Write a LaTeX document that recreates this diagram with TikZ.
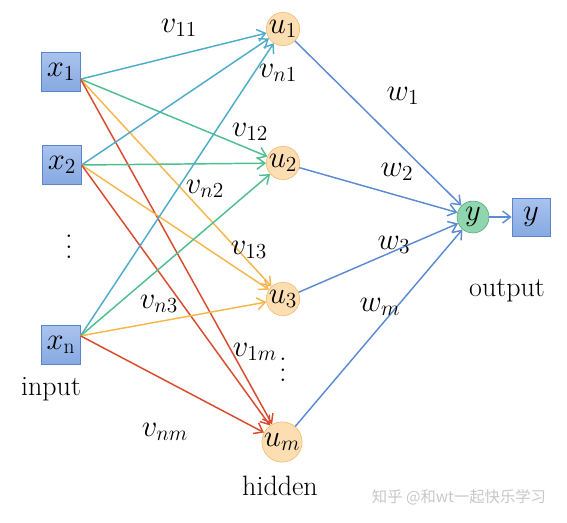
\RequirePackage{fix-cm}
\documentclass[tikz,border=0pt]{standalone}
\usepackage{fontspec}
\newfontfamily\cjk{Noto Sans CJK SC}
\usetikzlibrary{arrows.meta}
\definecolor{boxtop}{HTML}{A9C3EE}
\definecolor{boxbot}{HTML}{86A9E2}
\definecolor{boxdraw}{HTML}{5B84C9}
\definecolor{hidfill}{HTML}{FDDDB2}
\definecolor{hiddraw}{HTML}{F2B561}
\definecolor{outfill}{HTML}{8FD5AE}
\definecolor{outdraw}{HTML}{4FA377}
\definecolor{toA}{HTML}{4EACCB}
\definecolor{toB}{HTML}{4DC08E}
\definecolor{toC}{HTML}{F5B74C}
\definecolor{toM}{HTML}{DA4A2C}
\definecolor{toY}{HTML}{5C8BD3}
\tikzset{
inbox/.style={draw=boxdraw, top color=boxtop, bottom color=boxbot, minimum size=29pt, inner sep=0pt},
hid/.style={circle, draw=hiddraw, fill=hidfill, minimum size=22.5pt, inner sep=0pt},
outc/.style={circle, draw=outdraw, fill=outfill, minimum size=24pt, inner sep=0pt},
wire/.style={line width=1.1pt, -{Straight Barb[length=6pt,width=9pt]}},
word/.style={font=\fontsize{21}{25}\selectfont}
}
\newcommand{\tallvdots}{\vbox{\baselineskip=8pt \lineskiplimit=0pt \hbox{.}\hbox{.}\hbox{.}}}

\begin{document}
\begin{tikzpicture}[x=0.75pt, y=-0.75pt, font=\fontsize{23}{27}\selectfont]
\useasboundingbox (0,0) rectangle (567,522);

% input layer
\node[inbox] (x1) at (61,72) {$x_1$};
\node[inbox] (x2) at (62,165) {$x_2$};
\node[inbox] (xn) at (61,345) {$x_{\mathrm{n}}$};
\node (xdots) at (69,247) {\tallvdots};
\node[word] (input) at (51,389) {input};

% hidden layer
\node[hid] (u1) at (283,29) {$u_1$};
\node[hid] (u2) at (283,163) {$u_2$};
\node[hid] (u3) at (283,299) {$u_3$};
\node[hid] (um) at (282,442) {$u_m$};
\node (udots) at (283,370) {\tallvdots};
\node[word] (hidden) at (280,486) {hidden};

% output layer
\node[outc] (yc) at (473,217) {$y$};
\node[inbox, minimum size=28.5pt] (yb) at (531,217) {$y$};
\node[word] (output) at (507,291) {output};

% input -> hidden
\foreach \s/\a in {x1/-20, x2/0, xn/25} {
  \draw[wire, toA] (\s.\a) -- (u1);
  \draw[wire, toB] (\s.\a) -- (u2);
  \draw[wire, toC] (\s.\a) -- (u3);
  \draw[wire, toM] (\s.\a) -- (um);
}

% hidden -> output
\foreach \h in {u1,u2,u3,um}
  \draw[wire, toY] (\h) -- (yc);
\draw[wire, toY] (yc) -- (yb);

% weights
\node (v11) at (179,28) {$v_{11}$};
\node (vn1) at (278,73) {$v_{n1}$};
\node (v12) at (250,132) {$v_{12}$};
\node (vn2) at (205,189) {$v_{n2}$};
\node (v13) at (249,250) {$v_{13}$};
\node (vn3) at (159,304) {$v_{n3}$};
\node (v1m) at (255,352) {$v_{1m}$};
\node (vnm) at (165,432) {$v_{nm}$};
\node (w1) at (403,96) {$w_1$};
\node (w2) at (397,172) {$w_2$};
\node (w3) at (394,245) {$w_3$};
\node (wm) at (380,307) {$w_m$};

\node[text=black!22, font=\cjk\fontsize{11.5}{14}\selectfont] (mark) at (459,497) {知乎 @和wt一起快乐学习};
\end{tikzpicture}
\end{document}
